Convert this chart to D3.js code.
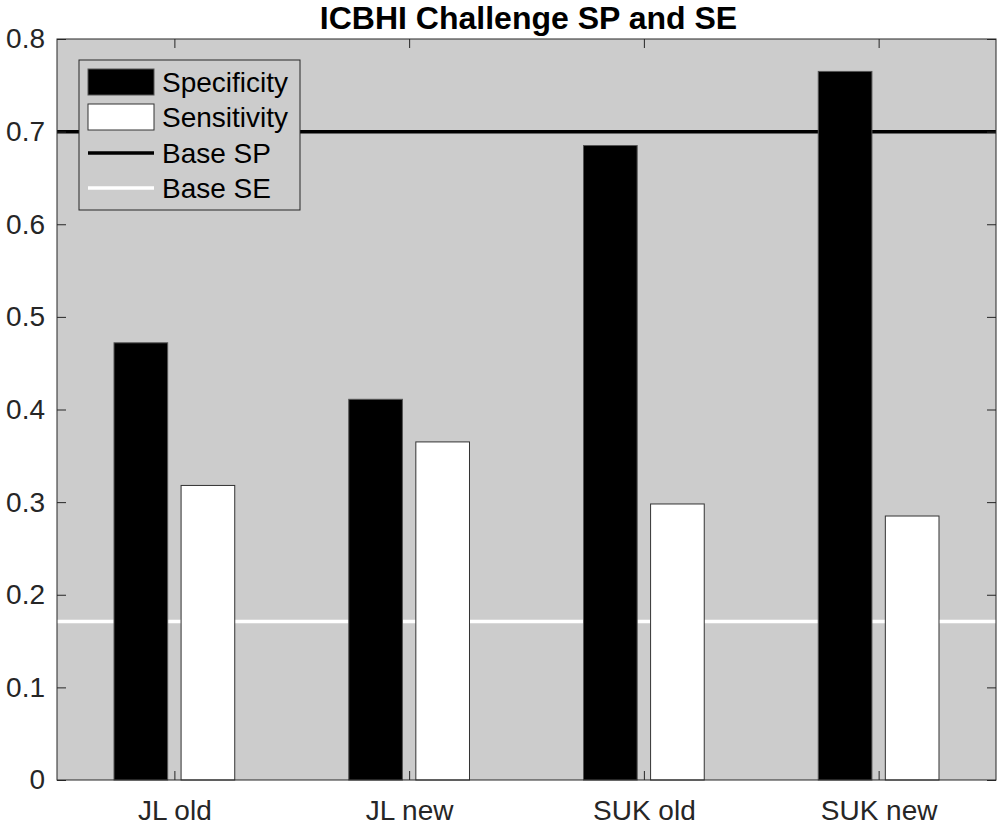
<!DOCTYPE html>
<html>
<head>
<meta charset="utf-8">
<script src="https://cdn.jsdelivr.net/npm/d3@7"></script>
<style>
  html, body { margin: 0; padding: 0; background: #ffffff; }
  svg { display: block; font-family: "Liberation Sans", Arial, Helvetica, sans-serif; }
</style>
</head>
<body>
<svg id="chart" width="1004" height="827"></svg>
<script>
// ---- data ----
const categories = ["JL old", "JL new", "SUK old", "SUK new"];
const specificity = [0.472, 0.411, 0.685, 0.765];
const sensitivity = [0.318, 0.365, 0.298, 0.285];
const baseSP = 0.70;
const baseSE = 0.171;
const yTicks = [0, 0.1, 0.2, 0.3, 0.4, 0.5, 0.6, 0.7, 0.8];
const legendLabels = ["Specificity", "Sensitivity", "Base SP", "Base SE"];
const titleText = "ICBHI Challenge SP and SE";

// ---- layout ----
const svg = d3.select("#chart");
const pLeft = 57, pRight = 996, pTop = 39, pBottom = 780;
const axisColor = "#262626";
const fontSize = 28;

const x = d3.scaleLinear().domain([0.5, categories.length + 0.5]).range([pLeft, pRight]);
const y = d3.scaleLinear().domain([0, 0.8]).range([pBottom, pTop]);

// MATLAB grouped bar geometry (2 series)
const groupWidth = Math.min(0.8, 2 / (2 + 1.5));
const barW = 0.8 * groupWidth / 2;
const offsets = [-groupWidth / 4, groupWidth / 4];

// background
svg.append("rect")
  .attr("x", pLeft).attr("y", pTop)
  .attr("width", pRight - pLeft).attr("height", pBottom - pTop)
  .attr("fill", "#cccccc");

// baseline lines (under bars)
svg.append("line")
  .attr("x1", pLeft).attr("x2", pRight)
  .attr("y1", y(baseSP)).attr("y2", y(baseSP))
  .attr("stroke", "#000").attr("stroke-width", 3.5);
svg.append("line")
  .attr("x1", pLeft).attr("x2", pRight)
  .attr("y1", y(baseSE)).attr("y2", y(baseSE))
  .attr("stroke", "#fff").attr("stroke-width", 3.5);

// bars
const series = [
  { values: specificity, fill: "#000000", stroke: "#555555" },
  { values: sensitivity, fill: "#ffffff", stroke: "#333333" }
];
series.forEach((s, si) => {
  svg.append("g").selectAll("rect")
    .data(s.values)
    .join("rect")
    .attr("x", (d, i) => x(i + 1 + offsets[si] - barW / 2))
    .attr("width", x(barW) - x(0))
    .attr("y", d => y(d))
    .attr("height", d => y(0) - y(d))
    .attr("fill", s.fill)
    .attr("stroke", s.stroke)
    .attr("stroke-width", 1);
});

// axes
const tickLen = 9;
const xTickVals = categories.map((c, i) => i + 1);

const yAxisL = d3.axisLeft(y).tickValues(yTicks)
  .tickFormat(d => d === 0 ? "0" : d3.format(".1f")(d))
  .tickSizeInner(-tickLen).tickSizeOuter(0).tickPadding(12);
const yAxisR = d3.axisRight(y).tickValues(yTicks).tickFormat("")
  .tickSizeInner(-tickLen).tickSizeOuter(0);
const xAxisB = d3.axisBottom(x).tickValues(xTickVals)
  .tickFormat((d, i) => categories[i])
  .tickSizeInner(-tickLen).tickSizeOuter(0).tickPadding(20);
const xAxisT = d3.axisTop(x).tickValues(xTickVals).tickFormat("")
  .tickSizeInner(-tickLen).tickSizeOuter(0);

function styleAxis(g) {
  g.select(".domain").remove();
  g.selectAll(".tick line").attr("stroke", axisColor).attr("stroke-width", 1);
  g.selectAll(".tick text").attr("fill", axisColor)
    .style("font-size", fontSize + "px")
    .style("font-family", '"Liberation Sans", Arial, Helvetica, sans-serif');
}

svg.append("g").attr("transform", `translate(${pLeft},0)`).call(yAxisL).call(styleAxis);
svg.append("g").attr("transform", `translate(${pRight},0)`).call(yAxisR).call(styleAxis);
svg.append("g").attr("transform", `translate(0,${pBottom})`).call(xAxisB).call(styleAxis);
svg.append("g").attr("transform", `translate(0,${pTop})`).call(xAxisT).call(styleAxis);

// box
svg.append("rect")
  .attr("x", pLeft).attr("y", pTop)
  .attr("width", pRight - pLeft).attr("height", pBottom - pTop)
  .attr("fill", "none").attr("stroke", axisColor).attr("stroke-width", 1);

// title
svg.append("text")
  .attr("x", (pLeft + pRight) / 2 + 2).attr("y", 29)
  .attr("text-anchor", "middle")
  .attr("fill", "#000")
  .style("font-size", "32px").style("font-weight", "bold")
  .text(titleText);

// legend
const lg = svg.append("g");
lg.append("rect")
  .attr("x", 79).attr("y", 60).attr("width", 221).attr("height", 150)
  .attr("fill", "#cccccc").attr("stroke", axisColor).attr("stroke-width", 1);
const rowY = [82, 117, 153, 188];
const sx0 = 88, sx1 = 154, tx = 162;
lg.append("rect").attr("x", sx0).attr("y", rowY[0] - 13).attr("width", sx1 - sx0).attr("height", 26)
  .attr("fill", "#000").attr("stroke", "#555").attr("stroke-width", 1);
lg.append("rect").attr("x", sx0).attr("y", rowY[1] - 13).attr("width", sx1 - sx0).attr("height", 26)
  .attr("fill", "#fff").attr("stroke", "#333").attr("stroke-width", 1);
lg.append("line").attr("x1", sx0).attr("x2", sx1).attr("y1", rowY[2]).attr("y2", rowY[2])
  .attr("stroke", "#000").attr("stroke-width", 3.5);
lg.append("line").attr("x1", sx0).attr("x2", sx1).attr("y1", rowY[3]).attr("y2", rowY[3])
  .attr("stroke", "#fff").attr("stroke-width", 3.5);
lg.selectAll("text.lbl").data(legendLabels).join("text")
  .attr("class", "lbl")
  .attr("x", tx).attr("y", (d, i) => rowY[i])
  .attr("dy", "0.35em")
  .attr("fill", "#000")
  .style("font-size", fontSize + "px")
  .text(d => d);
</script>
</body>
</html>
